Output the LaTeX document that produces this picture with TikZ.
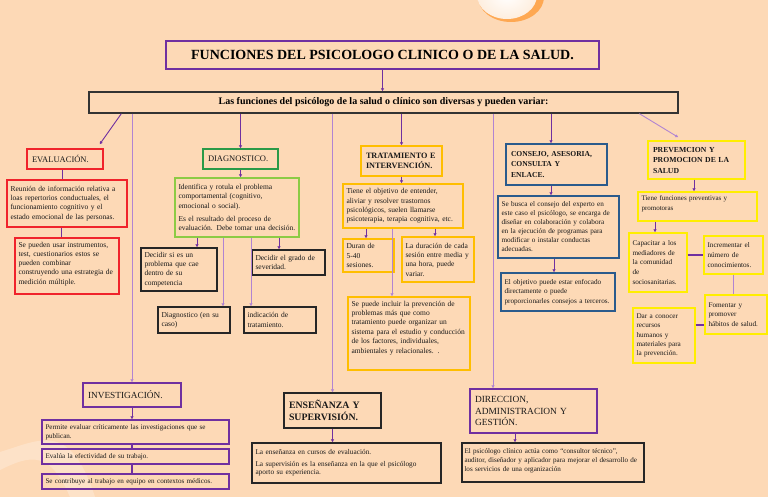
\documentclass[tikz,border=0pt]{standalone}
\usepackage{fontspec}
\setmainfont{Liberation Serif}
\usetikzlibrary{arrows.meta}
\definecolor{peach}{HTML}{FDD9B6}
\definecolor{lila}{HTML}{7030A0}
\definecolor{lilac}{HTML}{B184D2}
\definecolor{rojo}{HTML}{F0232B}
\definecolor{verde}{HTML}{2A9A48}
\definecolor{lima}{HTML}{8CCB45}
\definecolor{oro}{HTML}{FFBE00}
\definecolor{acero}{HTML}{2B5B8C}
\definecolor{amarillo}{HTML}{FFEE00}
\newcommand{\lowpad}[1]{\rule[-#1]{0pt}{#1}}
\tikzstyle{tbox}=[draw, line width=1.3pt, inner xsep=3.5pt, inner ysep=2pt, align=left, text=black!90, font=\fontsize{7.5}{9.3}\selectfont]
\tikzstyle{head}=[draw, line width=1.3pt, inner xsep=5pt, inner ysep=2pt, align=left, text=black!90, font=\fontsize{8.5}{10.5}\selectfont]
\tikzstyle{link}=[draw=lila, line width=0.9pt]
\tikzstyle{pale}=[draw=lilac, line width=0.9pt]
\tikzstyle{arr}=[-{Latex[length=3pt,width=3.5pt]}]

\begin{document}
\begin{tikzpicture}[x=1pt, y=-1pt]
\useasboundingbox (0,0) rectangle (768,497);
\fill[peach] (0,0) rectangle (768,497);
\begin{scope}
\clip (0,0) rectangle (768,497);
\fill[orange!55!peach] (511,-3) ellipse [x radius=33pt, y radius=25pt];
\shade[inner color=white, outer color=white!55!peach] (507,-5) ellipse [x radius=30pt, y radius=24pt];
\fill[white, opacity=0.25] (0,452) .. controls (40,440) and (70,420) .. (95,497) -- (70,497) .. controls (50,450) and (30,455) .. (0,470) -- cycle;
\end{scope}

% titulo
\node[draw=lila, line width=1.3pt, minimum width=433pt, minimum height=28pt,
      font=\bfseries\fontsize{14}{16}\selectfont] (title) at (382.5,55) {FUNCIONES DEL PSICOLOGO CLINICO O DE LA SALUD.};
\node[draw=black!80, line width=1.3pt, minimum width=589pt, minimum height=21pt,
      font=\bfseries\fontsize{10}{11}\selectfont] (sub) at (383.5,102.5) {Las funciones del psicólogo de la salud o clínico son diversas y pueden variar:};
\draw[link, arr] (title.south) -- (title.south |- sub.north);

% evaluacion
\node[head, draw=rojo, text width=66pt, minimum height=20pt] (eval) at (65,159) {EVALUACIÓN.};
\node[tbox, draw=rojo, text width=113pt, minimum height=47pt] (evt1) at (67,203.5) {Reunión de información relativa a\\ loas repertorios conductuales, el\\ funcionamiento cognitivo y el\\ estado emocional de las personas.};
\node[tbox, draw=rojo, text width=97pt, minimum height=56pt] (evt2) at (67,266) {Se pueden usar instrumentos,\\ test, cuestionarios estos se\\ pueden combinar\\ construyendo una estrategia de\\ medición múltiple.\lowpad{6pt}};

% diagnostico
\node[head, draw=verde, text width=65pt, minimum height=20pt] (diag) at (240.5,159) {DIAGNOSTICO.};
\node[tbox, draw=lima, text width=117pt, minimum height=59pt, font=\fontsize{7.5}{9.7}\selectfont] (dgt) at (237,207.5) {Identifica y rotula el problema\\ comportamental (cognitivo,\\ emocional o social).\\[3pt] Es el resultado del proceso de\\ evaluación. Debe tomar una decisión.};
\node[tbox, draw=black!85, text width=69pt, minimum height=43pt] (dg1) at (179,269.5) {Decidir si es un\\ problema que cae\\ dentro de su\\ competencia};
\node[tbox, draw=black!85, text width=66pt, minimum height=25pt] (dg2) at (288.5,262.5) {Decidir el grado de\\ severidad.};
\node[tbox, draw=black!85, text width=65pt, minimum height=26pt] (dg3) at (194,320) {Diagnostico (en su\\ caso)};
\node[tbox, draw=black!85, text width=65pt, minimum height=26pt] (dg4) at (280,320) {indicación de\\ tratamiento.};

% tratamiento
\node[head, draw=oro, text width=71pt, minimum height=30pt, font=\bfseries\fontsize{8.2}{10.3}\selectfont] (trat) at (401.5,161) {TRATAMIENTO E\\ INTERVENCIÓN.};
\node[tbox, draw=oro, text width=113pt, minimum height=44pt] (trt) at (403,206) {Tiene el objetivo de entender,\\ aliviar y resolver trastornos\\ psicológicos, suelen llamarse\\ psicoterapia, terapia cognitiva, etc.};
\node[tbox, draw=oro, text width=44pt, minimum height=33pt] (tr1) at (368.5,255.5) {Duran de\\ 5-40\\ sesiones.};
\node[tbox, draw=oro, text width=65pt, minimum height=45pt] (tr2) at (438,259.5) {La duración de cada\\ sesión entre media y\\ una hora, puede\\ variar.};
\node[tbox, draw=oro, text width=115pt, minimum height=73pt, font=\fontsize{7.5}{9.4}\selectfont] (tr3) at (409,333.5) {Se puede incluir la prevención de\\ problemas más que como\\ tratamiento puede organizar un\\ sistema para el estudio y conducción\\ de los factores, individuales,\\ ambientales y relacionales. .\lowpad{13pt}};

% consejo
\node[head, draw=acero, text width=91pt, minimum height=41pt, font=\bfseries\fontsize{7.6}{10.7}\selectfont] (cons) at (556.5,164.5) {CONSEJO, ASESORIA,\\ CONSULTA Y\\ ENLACE.};
\node[tbox, draw=acero, text width=114pt, minimum height=62pt, font=\fontsize{7.2}{9}\selectfont] (cst) at (558.5,227) {Se busca el consejo del experto en\\ este caso el psicólogo, se encarga de\\ diseñar en colaboración y colabora\\ en la ejecución de programas para\\ modificar o instalar conductas\\ adecuadas.};
\node[tbox, draw=acero, text width=107pt, minimum height=38pt, font=\fontsize{7.2}{9.5}\selectfont] (cs1) at (558,292) {El objetivo puede estar enfocado\\ directamente o puede\\ proporcionarles consejos a terceros.};

% prevencion
\node[head, draw=amarillo, text width=87pt, minimum height=38pt, font=\bfseries\fontsize{7.7}{10.5}\selectfont] (prev) at (696.5,160) {PREVEMCION Y\\ PROMOCION DE LA\\ SALUD};
\node[tbox, draw=amarillo, text width=112pt, minimum height=29pt, font=\fontsize{7}{10}\selectfont] (pvt) at (697.5,206.5) {Tiene funciones preventivas y\\ promotoras\lowpad{7pt}};
\node[tbox, draw=amarillo, text width=51pt, minimum height=59pt, font=\fontsize{7.2}{9.6}\selectfont] (pv1) at (658,262.5) {Capacitar a los\\ mediadores de\\ la comunidad\\ de\\ sociosanitarias.};
\node[tbox, draw=amarillo, text width=52pt, minimum height=38pt, font=\fontsize{7.2}{9.6}\selectfont] (pv2) at (733.5,255) {Incrementar el\\ número de\\ conocimientos.};
\node[tbox, draw=amarillo, text width=55pt, minimum height=39pt, font=\fontsize{7.2}{9.6}\selectfont] (pv3) at (736,314.5) {Fomentar y\\ promover\\ hábitos de salud.};
\node[tbox, draw=amarillo, text width=55pt, minimum height=55pt, font=\fontsize{7.2}{9.3}\selectfont] (pv4) at (664,335.5) {Dar a conocer\\ recursos\\ humanos y\\ materiales para\\ la prevención.};
\coordinate (pvj) at ([yshift=-10.5pt]pv3.west);

% investigacion
\node[head, draw=lila, text width=88pt, minimum height=24pt, font=\fontsize{9.3}{11}\selectfont] (inv) at (132,395) {INVESTIGACIÓN.};
\node[tbox, draw=lila, text width=180pt, minimum height=24pt, font=\fontsize{7.1}{8.7}\selectfont] (iv1) at (135.5,432) {Permite evaluar críticamente las investigaciones que se\\ publican.};
\node[tbox, draw=lila, text width=180pt, minimum height=15pt, font=\fontsize{7.1}{8.5}\selectfont] (iv2) at (135.5,456.5) {Evalúa la efectividad de su trabajo.};
\node[tbox, draw=lila, text width=180pt, minimum height=15pt, font=\fontsize{7.1}{8.5}\selectfont] (iv3) at (135.5,481.5) {Se contribuye al trabajo en equipo en contextos médicos.};

% ensenanza
\node[head, draw=black!85, text width=87pt, minimum height=35pt, font=\bfseries\fontsize{9.8}{12}\selectfont] (ens) at (332.5,410.5) {ENSEÑANZA Y\\ SUPERVISIÓN.};
\node[tbox, draw=black!85, text width=182pt, minimum height=40pt, font=\fontsize{7.3}{8.7}\selectfont] (ent) at (346.5,463) {La enseñanza en cursos de evaluación.\\[3pt] La supervisión es la enseñanza en la que el psicólogo\\ aporto su experiencia.};

% direccion
\node[head, draw=lila, text width=117pt, minimum height=44pt, font=\fontsize{9.4}{11.3}\selectfont] (dir) at (533.5,411) {DIRECCION,\\ ADMINISTRACION Y\\ GESTIÓN.};
\node[tbox, draw=black!85, text width=177pt, inner xsep=2.5pt, minimum height=39pt, font=\fontsize{7.1}{9}\selectfont] (drt) at (553,462.5) {El psicólogo clínico actúa como “consultor técnico”,\\ auditor, diseñador y aplicador para mejorar el desarrollo de\\ los servicios de una organización\lowpad{5pt}};

% ramas desde el subtitulo
\draw[link, arr] ([xshift=33pt]sub.south west) -- ([xshift=-4pt,yshift=4pt]eval.north east);
\draw[pale, arr] (sub.south -| inv.north) -- (inv.north);
\draw[link, arr] (sub.south -| diag.north) -- (diag.north);
\draw[pale, arr] (sub.south -| ens.north) -- (ens.north);
\draw[link, arr] (sub.south -| trat.north) -- (trat.north);
\draw[pale, arr] ([xshift=-40.5pt]sub.south -| dir.north) -- ([xshift=-40.5pt]dir.north);
\draw[link, arr] ([xshift=-5.5pt]sub.south -| cons.north) -- ([xshift=-5.5pt]cons.north);
\draw[pale, arr] ([xshift=551pt]sub.south west) -- ([xshift=31pt,yshift=3pt]prev.north west);

% evaluacion
\draw[link] ([xshift=-3pt]eval.south) -- ([xshift=-3pt]eval.south |- evt1.north);
\draw[link] ([xshift=-6pt]evt1.south) -- ([xshift=-6pt]evt1.south |- evt2.north);

% diagnostico
\draw[link, arr] (diag.south) -- (diag.south |- dgt.north);
\draw[link, arr] ([xshift=18pt]dg1.north |- dgt.south) -- ([xshift=18pt]dg1.north);
\draw[link, arr] ([xshift=-9.5pt]dg2.north |- dgt.south) -- ([xshift=-9.5pt]dg2.north);
\draw[pale, arr] ([xshift=29pt]dg3.north |- dgt.south) -- ([xshift=29pt]dg3.north);
\draw[pale, arr] ([xshift=-29pt]dg4.north |- dgt.south) -- ([xshift=-29pt]dg4.north);

% tratamiento
\draw[link, arr] (trat.south) -- (trat.south |- trt.north);
\draw[link, arr] ([xshift=-2.5pt]tr1.north |- trt.south) -- ([xshift=-2.5pt]tr1.north);
\draw[link, arr] ([xshift=-3pt]tr2.north |- trt.south) -- ([xshift=-3pt]tr2.north);
\draw[pale, arr] ([xshift=-17pt]tr3.north |- trt.south) -- ([xshift=-17pt]tr3.north);

% consejo
\draw[link, arr] ([xshift=-5.5pt]cons.south) -- ([xshift=-5.5pt]cons.south |- cst.north);
\draw[link, arr] ([xshift=-4pt]cs1.north |- cst.south) -- ([xshift=-4pt]cs1.north);

% prevencion
\draw[link, arr] ([xshift=-3.5pt]pvt.north |- prev.south) -- ([xshift=-3.5pt]pvt.north);
\draw[link, arr] ([xshift=-3pt]pv1.north |- pvt.south) -- ([xshift=-3pt]pv1.north);
\draw[link, line width=1.3pt] (pv1.east |- pv2.west) -- (pv2.west);
\draw[pale] (pv2.south) -- (pv2.south |- pv3.north);
\draw[link, line width=1.3pt] (pv4.east |- pvj) -- (pvj);

% investigacion
\draw[link, arr] (inv.south) -- (inv.south |- iv1.north);
\draw[link, line width=1.3pt] (inv.south |- iv1.south) -- (inv.south |- iv2.north);
\draw[link, line width=1.3pt] (inv.south |- iv2.south) -- (inv.south |- iv3.north);

% ensenanza y direccion
\draw[link, arr] (ens.south) -- (ens.south |- ent.north);
\draw[link, arr] ([xshift=-18.5pt]dir.south) -- ([xshift=-18.5pt]dir.south |- drt.north);
\end{tikzpicture}
\end{document}
